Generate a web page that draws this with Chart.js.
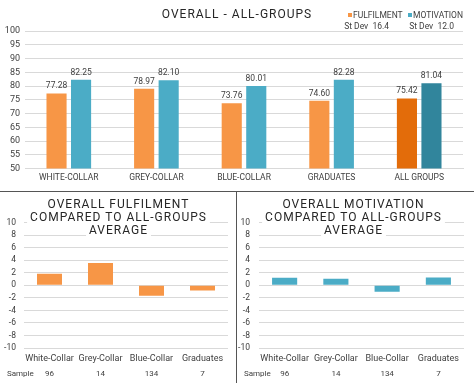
<!DOCTYPE html>
<html>
<head>
<meta charset="utf-8">
<script src="https://cdn.jsdelivr.net/npm/chart.js@4"></script>
<style>
  html,body{margin:0;padding:0;background:#fff;}
  #wrap{position:relative;width:474px;height:383px;overflow:hidden;}
  .box{position:absolute;}
  #top{left:0;top:0;width:474px;height:190px;}
  #hline{left:0;top:191px;width:474px;height:1px;background:#555;}
  #bl{left:0;top:192px;width:236px;height:191px;}
  #vline{left:236px;top:192px;width:1px;height:191px;background:#555;}
  #br{left:237px;top:192px;width:237px;height:191px;}
</style>
</head>
<body>
<div id="wrap">
  <div class="box" id="top"><canvas id="cTop"></canvas></div>
  <div class="box" id="hline"></div>
  <div class="box" id="bl"><canvas id="cFul"></canvas></div>
  <div class="box" id="vline"></div>
  <div class="box" id="br"><canvas id="cMot"></canvas></div>
</div>
<script>
// ---- data ----
const groups      = ['WHITE-COLLAR','GREY-COLLAR','BLUE-COLLAR','GRADUATES','ALL GROUPS'];
const fulfilment  = [77.28, 78.97, 73.76, 74.60, 75.42];
const motivation  = [82.25, 82.10, 80.01, 82.28, 81.04];
const seriesNames = ['FULFILMENT','MOTIVATION'];
const stDevs      = ['16.4','12.0'];

const subGroups      = ['White-Collar','Grey-Collar','Blue-Collar','Graduates'];
const fulfilmentDiff = [1.86, 3.55, -1.66, -0.82];
const motivationDiff = [1.21, 1.06, -1.03, 1.24];
const samples        = [96, 14, 134, 7];

// ---- style ----
const FONT = 'Roboto, "DejaVu Sans", sans-serif';
const ORANGE = '#F79646', ORANGE_D = '#E36C0A';
const BLUE = '#4BACC6', BLUE_D = '#31859C';
const GRID = '#d9d9d9', TXT = '#404040';

Chart.defaults.font.family = FONT;
Chart.defaults.color = TXT;
Chart.defaults.animation = false;
Chart.defaults.responsive = true;
Chart.defaults.maintainAspectRatio = false;
Chart.defaults.plugins.legend.display = false;
Chart.defaults.plugins.tooltip.enabled = false;

// value labels above bars (top chart)
const valueLabels = {
  id:'valueLabels',
  afterDatasetsDraw(ch){
    const ctx = ch.ctx;
    ctx.save();
    ctx.font = '8.5px ' + FONT;
    ctx.fillStyle = TXT;
    ctx.textAlign = 'center';
    ctx.textBaseline = 'bottom';
    ch.data.datasets.forEach((ds,di)=>{
      ch.getDatasetMeta(di).data.forEach((bar,i)=>{
        ctx.fillText(ds.data[i].toFixed(2), bar.x, bar.y - 3);
      });
    });
    ctx.restore();
  }
};

// title + legend for top chart
const topDecor = {
  id:'topDecor',
  afterDraw(ch){
    const ctx = ch.ctx;
    ctx.save();
    ctx.fillStyle = '#262626';
    ctx.font = '12px ' + FONT;
    ctx.letterSpacing = '1px';
    ctx.textAlign = 'center';
    ctx.textBaseline = 'middle';
    ctx.fillText('OVERALL - ALL-GROUPS', 237, 15);
    ctx.letterSpacing = '0px';
    ctx.font = '8.5px ' + FONT;
    ctx.textAlign = 'left';
    const xs = [348, 408], cols = [ORANGE, BLUE];
    seriesNames.forEach((n,i)=>{
      ctx.fillStyle = cols[i];
      ctx.fillRect(xs[i], 13, 4, 4);
      ctx.fillStyle = TXT;
      ctx.fillText(n, xs[i] + 5, 15.5);
      ctx.textAlign = 'right';
      ctx.fillText('St Dev  ' + stDevs[i], xs[i] + (i ? 46 : 41), 27);
      ctx.textAlign = 'left';
    });
    ctx.restore();
  }
};

// multi-line title with white backing + sample row for bottom charts
function bottomDecor(lines, cx, sampleX){
  return {
    id:'bottomDecor',
    afterDraw(ch){
      const ctx = ch.ctx;
      ctx.save();
      ctx.font = '12px ' + FONT;
      ctx.letterSpacing = '1px';
      ctx.textAlign = 'center';
      ctx.textBaseline = 'middle';
      lines.forEach((t,i)=>{
        const y = 12.5 + i*13.4;
        const w = ctx.measureText(t).width;
        ctx.fillStyle = '#fff';
        ctx.fillRect(cx - w/2 - 3, y - 7, w + 6, 14);
        ctx.fillStyle = '#262626';
        ctx.fillText(t, cx, y);
      });
      ctx.letterSpacing = '0px';
      ctx.font = '8px ' + FONT;
      ctx.fillStyle = TXT;
      ctx.textAlign = 'left';
      const ys = 181.5;
      ctx.fillText('Sample', sampleX, ys);
      ctx.textAlign = 'center';
      const xs = ch.scales.x;
      samples.forEach((s,i)=> ctx.fillText(String(s), xs.getPixelForValue(i), ys));
      ctx.restore();
    }
  };
}

// ---- top chart ----
new Chart(document.getElementById('cTop'), {
  type:'bar',
  data:{
    labels: groups,
    datasets:[
      {data: fulfilment, backgroundColor: groups.map((g,i)=> i===groups.length-1 ? ORANGE_D : ORANGE),
       categoryPercentage:0.56, barPercentage:0.82},
      {data: motivation, backgroundColor: groups.map((g,i)=> i===groups.length-1 ? BLUE_D : BLUE),
       categoryPercentage:0.56, barPercentage:0.82}
    ]
  },
  options:{
    layout:{padding:{top:31, right:11, bottom:5.5, left:0}},
    scales:{
      x:{
        grid:{display:false, drawTicks:false},
        border:{color:GRID},
        ticks:{font:{size:8.5}, color:TXT, padding:4, maxRotation:0, autoSkip:false},
        afterFit: s => { s.height = 16; }
      },
      y:{
        min:50, max:100,
        grid:{color:GRID, drawTicks:false},
        border:{display:false},
        ticks:{stepSize:5, font:{size:9}, color:TXT, padding:5, autoSkip:false},
        afterFit: s => { s.width = 25; }
      }
    }
  },
  plugins:[valueLabels, topDecor]
});

// ---- bottom charts ----
function diffChart(id, data, color, titleLines, opts){
  return new Chart(document.getElementById(id), {
    type:'bar',
    data:{
      labels: subGroups,
      datasets:[{data, backgroundColor: color, categoryPercentage:1, barPercentage:0.49}]
    },
    options:{
      layout:{padding:{top:30.7, right:opts.right, bottom:5, left:0}},
      scales:{
        x:{
          grid:{display:false, drawTicks:false},
          border:{display:false},
          ticks:{font:{size:9}, color:TXT, padding:5, maxRotation:0, autoSkip:false},
          afterFit: s => { s.height = 30; }
        },
        y:{
          min:-10, max:10,
          grid:{color:GRID, drawTicks:false},
          border:{display:false},
          ticks:{stepSize:2, font:{size:8.5}, color:TXT, padding:opts.tickPad, autoSkip:false},
          afterFit: s => { s.width = opts.yWidth; }
        }
      }
    },
    plugins:[bottomDecor(titleLines, opts.cx, opts.sampleX)]
  });
}

diffChart('cFul', fulfilmentDiff, ORANGE,
  ['OVERALL FULFILMENT','COMPARED TO ALL-GROUPS','AVERAGE'],
  {right:8, yWidth:24, tickPad:8, cx:118.5, sampleX:7});
diffChart('cMot', motivationDiff, BLUE,
  ['OVERALL MOTIVATION','COMPARED TO ALL-GROUPS','AVERAGE'],
  {right:10, yWidth:22, tickPad:9, cx:116.5, sampleX:7});
</script>
</body>
</html>
